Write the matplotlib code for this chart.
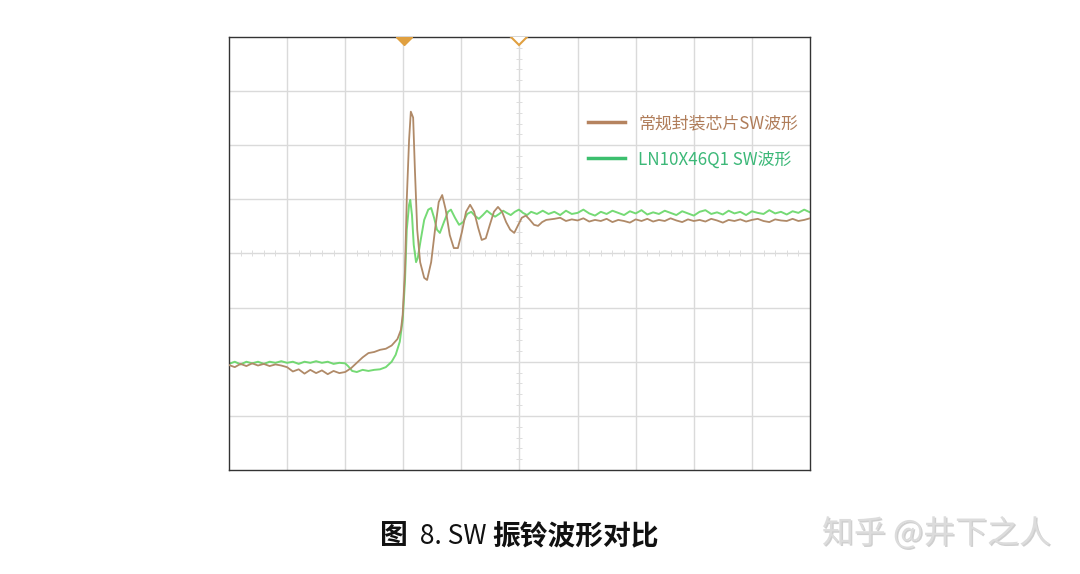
import matplotlib
matplotlib.use("Agg")
import matplotlib.pyplot as plt
from matplotlib.lines import Line2D
import matplotlib.patheffects as pe
import numpy as np

plt.rcParams["font.family"] = ["Noto Sans CJK SC", "DejaVu Sans"]

# scope readings, in grid divisions (10 x 8 screen)
conv_x = [0.0, 0.1, 0.2, 0.3, 0.4, 0.5, 0.6, 0.7, 0.8, 0.9, 1.0,
          1.1, 1.2, 1.3, 1.4, 1.5, 1.6, 1.7, 1.8, 1.9, 2.0,
          2.1, 2.2, 2.3, 2.4, 2.5, 2.6, 2.7, 2.8, 2.9, 2.96, 2.99,
          3.03, 3.06, 3.10, 3.13, 3.17, 3.20, 3.24, 3.29, 3.36, 3.41,
          3.48, 3.55, 3.61, 3.67, 3.73, 3.80, 3.87, 3.94, 4.01, 4.08,
          4.15, 4.22, 4.29, 4.35, 4.42, 4.49, 4.56, 4.63, 4.70, 4.77,
          4.84, 4.91, 4.97, 5.04, 5.11, 5.18, 5.25, 5.32, 5.39, 5.46,
          5.6, 5.7, 5.8, 5.9, 6.0, 6.1, 6.2, 6.3, 6.4, 6.5, 6.6, 6.7,
          6.8, 6.9, 7.0, 7.1, 7.2, 7.3, 7.4, 7.5, 7.6, 7.7, 7.8, 7.9,
          8.0, 8.1, 8.2, 8.3, 8.4, 8.5, 8.6, 8.7, 8.8, 8.9, 9.0, 9.1,
          9.2, 9.3, 9.4, 9.5, 9.6, 9.7, 9.8, 9.9, 10.0]
conv_y = [1.94, 1.90, 1.96, 1.92, 1.97, 1.93, 1.96, 1.92, 1.95, 1.93, 1.90,
          1.82, 1.86, 1.78, 1.85, 1.79, 1.84, 1.77, 1.83, 1.79, 1.81,
          1.88, 1.98, 2.08, 2.16, 2.18, 2.22, 2.24, 2.30, 2.42, 2.59, 2.87,
          3.70, 4.99, 6.10, 6.62, 6.51, 5.55, 4.44, 3.84, 3.55, 3.51,
          3.84, 4.47, 4.95, 5.08, 4.81, 4.34, 4.10, 4.10, 4.40, 4.77,
          4.90, 4.77, 4.47, 4.25, 4.28, 4.53, 4.77, 4.86, 4.77, 4.58,
          4.44, 4.38, 4.51, 4.66, 4.70, 4.62, 4.53, 4.51, 4.58, 4.62,
          4.64, 4.66, 4.60, 4.63, 4.61, 4.65, 4.59, 4.62, 4.60, 4.64, 4.58, 4.62,
          4.60, 4.57, 4.63, 4.60, 4.64, 4.59, 4.62, 4.60, 4.65, 4.61, 4.58, 4.63,
          4.60, 4.62, 4.59, 4.64, 4.61, 4.57, 4.62, 4.60, 4.63, 4.59, 4.62, 4.64,
          4.60, 4.58, 4.63, 4.61, 4.60, 4.64, 4.60, 4.62, 4.65]

ln_x = [0.0, 0.1, 0.2, 0.3, 0.4, 0.5, 0.6, 0.7, 0.8, 0.9, 1.0,
        1.1, 1.2, 1.3, 1.4, 1.5, 1.6, 1.7, 1.8, 1.9, 2.0, 2.05,
        2.12, 2.2, 2.3, 2.4, 2.5, 2.6, 2.7, 2.8, 2.87, 2.94, 2.99,
        3.03, 3.06, 3.10, 3.12, 3.15, 3.18, 3.22, 3.25, 3.30, 3.36,
        3.43, 3.48, 3.53, 3.58, 3.63, 3.70, 3.77, 3.82, 3.89, 3.96,
        4.03, 4.10, 4.17, 4.23, 4.30, 4.37, 4.44, 4.51, 4.58, 4.65,
        4.72, 4.78, 4.85, 4.92, 4.99, 5.06, 5.13, 5.20, 5.30, 5.40, 5.5,
        5.6, 5.7, 5.8, 5.9, 6.0, 6.1, 6.2, 6.3, 6.4, 6.5, 6.6, 6.7,
        6.8, 6.9, 7.0, 7.1, 7.2, 7.3, 7.4, 7.5, 7.6, 7.7, 7.8, 7.9,
        8.0, 8.1, 8.2, 8.3, 8.4, 8.5, 8.6, 8.7, 8.8, 8.9, 9.0, 9.1,
        9.2, 9.3, 9.4, 9.5, 9.6, 9.7, 9.8, 9.9, 10.0]
ln_y = [1.96, 2.00, 1.95, 2.00, 1.97, 2.00, 1.96, 2.00, 1.98, 2.01, 1.98,
        2.00, 1.96, 2.00, 1.98, 2.01, 1.98, 2.00, 1.96, 1.98, 1.97, 1.92,
        1.83, 1.81, 1.85, 1.83, 1.85, 1.86, 1.90, 2.00, 2.13, 2.37, 2.77,
        3.51, 4.44, 4.90, 4.99, 4.71, 4.16, 3.84, 3.92, 4.25, 4.62,
        4.81, 4.84, 4.66, 4.44, 4.38, 4.58, 4.77, 4.81, 4.66, 4.53,
        4.58, 4.73, 4.77, 4.70, 4.64, 4.71, 4.79, 4.73, 4.68, 4.73,
        4.79, 4.75, 4.71, 4.77, 4.81, 4.75, 4.71, 4.77, 4.73, 4.79, 4.73,
        4.77, 4.71, 4.79, 4.73, 4.75, 4.81, 4.74, 4.70, 4.77, 4.73, 4.79, 4.75,
        4.71, 4.78, 4.74, 4.80, 4.72, 4.76, 4.73, 4.79, 4.75, 4.71, 4.78, 4.74,
        4.70, 4.77, 4.80, 4.73, 4.76, 4.72, 4.79, 4.74, 4.77, 4.71, 4.78, 4.75,
        4.73, 4.80, 4.74, 4.77, 4.72, 4.78, 4.75, 4.81, 4.76]

series_labels = ["常规封装芯片SW波形", "LN10X46Q1 SW波形"]
trigger_x = [3.01, 5.0]

BROWN = "#b08a68"
GREEN = "#66d666"

fig = plt.figure(figsize=(10.8, 5.74), dpi=100)
ax = fig.add_axes([0.2120, 0.1812, 0.538, 0.7544])

# scope graticule
for gx in range(1, 10):
    ax.axvline(gx, color="#dadada", lw=1.0, zorder=0)
for gy in range(1, 8):
    ax.axhline(gy, color="#dadada", lw=1.0, zorder=0)
minor = np.arange(0, 10.01, 0.2)
ax.plot(minor, np.full_like(minor, 4.0), ls="none", marker="|", ms=4,
        color="#dddddd", mew=0.7, zorder=0)
minor_v = np.arange(0, 8.01, 0.2)
ax.plot(np.full_like(minor_v, 5.0), minor_v, ls="none", marker="_", ms=4,
        color="#dddddd", mew=0.7, zorder=0)

ax.plot(conv_x, conv_y, color=BROWN, lw=1.3, zorder=3)
ax.plot(ln_x, ln_y, color=GREEN, lw=1.4, alpha=0.9, zorder=2)

# trigger markers on top edge
ax.plot([trigger_x[0]], [8.0], marker="D", ms=8, color="#e0a040",
        clip_on=True, zorder=5)
ax.plot([trigger_x[1]], [8.0], marker="D", ms=8, mfc="white", mec="#e0a040",
        mew=1.5, clip_on=True, zorder=5)

ax.set_xlim(0, 10)
ax.set_ylim(0, 8)
ax.set_xticks([])
ax.set_yticks([])
for s in ax.spines.values():
    s.set_color("#333333")
    s.set_linewidth(1.0)

handles = [Line2D([], [], color="#b5835f", lw=2.5),
           Line2D([], [], color="#3cbf6e", lw=2.5)]
leg = ax.legend(handles, series_labels, loc="upper left",
                bbox_to_anchor=(0.618, 0.822), frameon=False, fontsize=12.2,
                handlelength=2.2, handletextpad=0.75, labelspacing=1.08,
                borderpad=0, borderaxespad=0,
                labelcolor=["#b07d5a", "#3cb878"])

# caption, mixed weights
t1 = fig.text(0.352, 0.052, "图", fontsize=20, fontweight="bold",
              color="#111111", va="baseline")
t2 = ax.annotate("  8. SW ", xy=(1, 0), xycoords=t1, fontsize=19,
                 color="#111111", va="bottom")
ax.annotate("振铃波形对比", xy=(1, 0), xycoords=t2, fontsize=20,
            fontweight="bold", color="#111111", va="bottom",
            annotation_clip=False)

fig.text(0.761, 0.054, "知乎 @井下之人", fontsize=23, color="#dcdcdc",
         fontweight="light",
         path_effects=[pe.withSimplePatchShadow(offset=(1, -1),
                                                shadow_rgbFace="#a0a0a0",
                                                alpha=0.5)])

fig.savefig("out.png", dpi=100)
